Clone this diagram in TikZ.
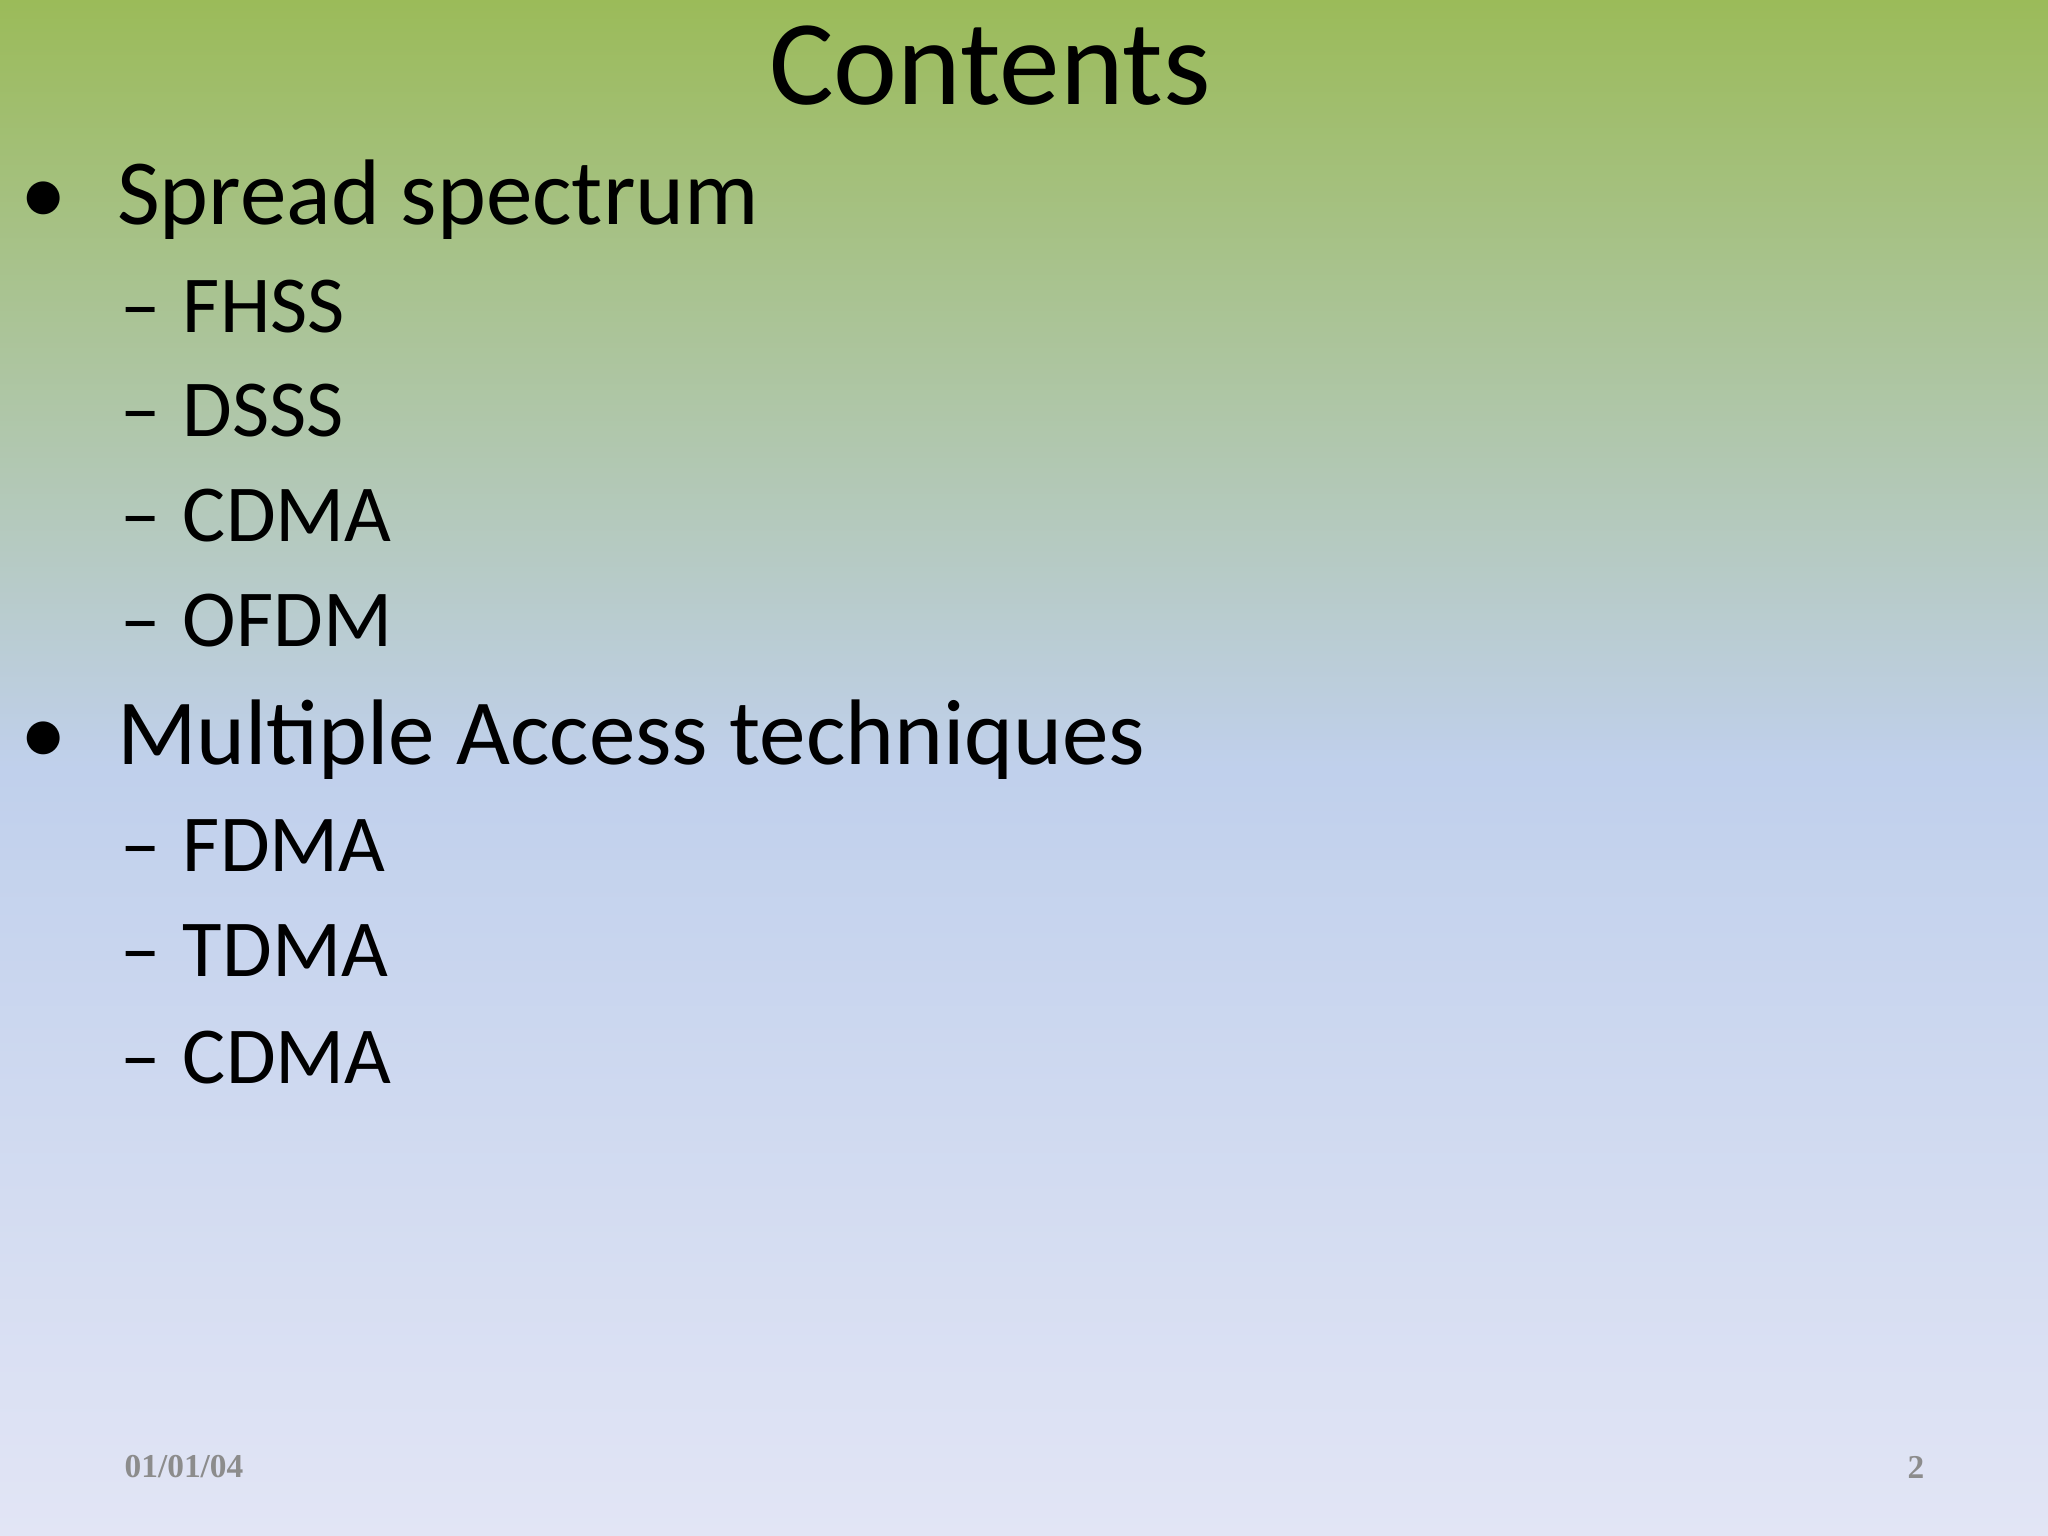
\documentclass[tikz,border=0pt]{standalone}
\usepackage{fontspec}
\setmainfont{Carlito}
\newfontfamily\footfont{Liberation Serif}
\definecolor{gtop}{HTML}{9BBB59}
\definecolor{gmid}{HTML}{C0D0EC}
\definecolor{gbot}{HTML}{E2E5F5}
\definecolor{footgray}{HTML}{8C8C8C}
\begin{document}
\begin{tikzpicture}[x=1cm,y=-1cm,
  lone/.style={anchor=base west,inner sep=0pt,font=\fontsize{26.5}{30}\selectfont},
  ltwo/.style={anchor=base west,inner sep=0pt,font=\fontsize{23}{27}\selectfont},
  foot/.style={anchor=center,inner sep=0pt,text=footgray,font=\footfont\bfseries\fontsize{9.5}{11}\selectfont}]
\useasboundingbox (0,0) rectangle (20.48,15.36);
\shade[top color=gtop,bottom color=gbot,middle color=gmid] (0,0) rectangle (20.48,15.36);
\node[anchor=base,inner sep=0pt,font=\fontsize{34.5}{40}\selectfont] (title) at (9.90,1.05) {Contents};
\node[lone] (b1) at (0.20,2.25) {•\hspace{0.5cm}Spread spectrum};
\node[ltwo] (s1) at (1.20,3.33) {–\hspace{0.22cm}FHSS};
\node[ltwo] (s2) at (1.20,4.37) {–\hspace{0.22cm}DSSS};
\node[ltwo] (s3) at (1.20,5.42) {–\hspace{0.22cm}CDMA};
\node[ltwo] (s4) at (1.20,6.46) {–\hspace{0.22cm}OFDM};
\node[lone] (b2) at (0.20,7.64) {•\hspace{0.5cm}Multiple Access techniques};
\node[ltwo] (m1) at (1.20,8.72) {–\hspace{0.22cm}FDMA};
\node[ltwo] (m2) at (1.20,9.77) {–\hspace{0.22cm}TDMA};
\node[ltwo] (m3) at (1.20,10.83) {–\hspace{0.22cm}CDMA};
\node[foot] (date) at (1.84,14.67) {01/01/04};
\node[foot] (page) at (19.16,14.67) {2};
\end{tikzpicture}
\end{document}
